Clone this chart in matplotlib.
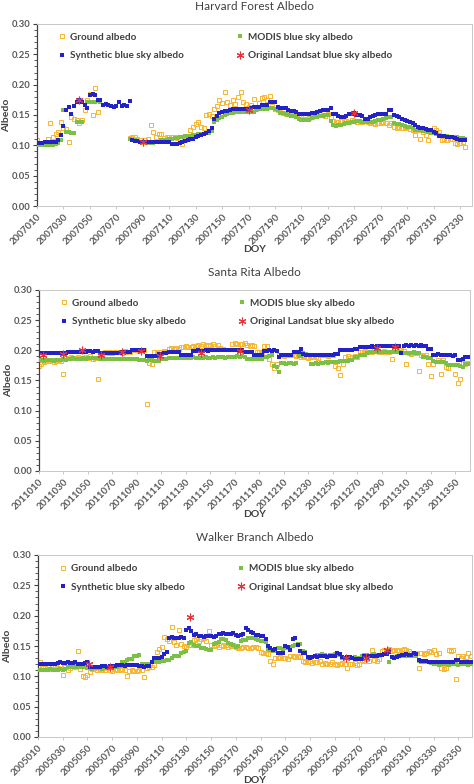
import numpy as np
import matplotlib
matplotlib.use("Agg")
import matplotlib.pyplot as plt
from matplotlib.ticker import MultipleLocator, FixedLocator
from matplotlib.lines import Line2D

plt.rcParams['font.family'] = ['Lato', 'DejaVu Sans']

N = None
# ---------------- Harvard Forest (2007), DOY 10..334 every 2 days, albedo x1000
hf_days = list(range(10, 335, 2))
hf_synthetic = [104, 104, 104, 105, 105, 105, 106, 106, 109,
                117, 132, 158, 163, 152, 165, 172, 175, 172, 167, 162,
                183, 184, 183, 175, 174,
                167, 168, 166, 165, 163, 165, 171, 165, 167, 165, 173,
                109, 107, 107, 106, 106, 106, 106, 106, 106, 106, 106, 106, 106, 106, 105, 103,
                103, 103, 104, 106, 107, 108, 110, 111, 114, 116, 117, 119, 120, 124, 128,
                144, 149, 153, 155, 156, 157, 158, 160, 160, 160, 160, 160, 160, 160, 161, 163,
                164, 164, 167, 167, 167, 172, 172, 171,
                163, 162, 162, 161, 159, 157, 156, 155, 152, 151, 151, 151, 152, 153, 154, 155,
                156, 158, 159, 159, 161,
                152, 151, 148, 147, 147, 149, 151, 152, 153, 150, 150, 148, 144, 144, 146, 149,
                150, 151, 151, 151, 152, 158, 158,
                150, 148, 146, 144, 142, 140, 139, 136, 134, 131, 129, 128, 127, 126, 126, 122,
                120, 116, 116, 115, 114, 113, 113, 112, 110, 109, 108, 108]
hf_modis = [100, 100, 100, 100, 101, 101, 101, 103, 104,
            108, 158, 122, 122, 120, 120, 138, 138, 139,
            N,
            172, 172, 172, 172, 173, 172,
            N, N, N, N, N, N, N, N, N, N,
            111, 109, 108, 107, 106, 106, 105, 104, 104, 104, 105, 106, 108, 109, 109, 110,
            111, 112, 112, 113, 114, 115, 116, 116, 117, 117, 118, 118, 119, 120, 121, 124,
            139, 142, 145, 147, 150, 152, 153, 154, 155, 155, 155, 155, 155, 155, 155, 155,
            158, 160, 160, 160, 160, 161, 161, 160,
            158, 154, 153, 152, 150, 149, 148, 146, 143, 142, 141, 141, 142, 145, 146, 147,
            148, 149, 150, 150, 140,
            133, 132, 133, 134, 135, 136, 137, 138, 139, 140, 140, 139, 138, 138, 139, 139,
            140, 141, 142, 144, 145, 146, 147,
            137, 135, 135, 134, 132, 131, 130, 128, 126, 125, 125, 124, 123, 122, 121, 120,
            118, 117, 116, 116, 115, 114, 114, 113, 113, 112, 112, 111]
hf_ground = [108, 104, 102, 104, 110, 136, 114, 118, 122, 139, 128, 127, 106, 147, 143, 141,
             136, 142, 158, 174, 185, 150, 194, 155,
             N, N, N, N, N, N, N, N, N, N, N,
             112, 114, 113, 110, 108, 106, 108, 110, 133, 122, 114, 119, 118, 112, 113, 114,
             113, 114, 112, 112, 102, 108, 110, 125, 130, 135, 139, 130, 128, 150, 152, 148,
             160, 165, 174, 170, 188, 172, 167, 175, 168, 180, 188, 172, 168, 163, 166, 176,
             160, 170, 178, 180, 175, 182, 165, 160,
             158, 155, 153, 152, 155, 150, 152, 148, 150, 146, 144, 143, 145, 146, 148, 150,
             151, 150, 148, 152, 146,
             140, 138, 139, 140, 141, 140, 139, 141, 140, 139, 138, 139, 140, 138, 137, 136,
             135, 136, 137, 138, 137, 134, 136,
             130, 128, 131, 129, 128, 131, 127, 126, 117, 125, 111, 122, 117, 108, 124, 128,
             126, 122, 108, 110, 109, 111, 110, 104, 103, 104, 105, 97]
hf_landsat_days = [42, 90, 170, 250]
hf_landsat = [175, 105, 159, 153]

# ---------------- Santa Rita (2011), DOY 10..360 every 2 days
sr_days = list(range(10, 361, 2))
sr_synthetic = [195, 195, 195, 195, 195, 196, 195, 195, 196, 195, 195, 196,
                197, 197, 198, 197, 197, 198, 197, 198,
                199, 199, 198, 199, 199,
                195, 195, 196, 195, 195, 195, 196, 195, 195,
                197, 198, 197, 198,
                200, 200, 201, 200, 200, 200,
                190, 190, 190, 191, 191,
                194, 194, 195, 195,
                197, 198, 197, 198, 197,
                192, 193, 192, 193, 192,
                199, 199, 200, 199, 199, 200, 199, 200, 200,
                200, 200, 200, 201, 200, 200, 200, 201, 200, 200, 200, 200,
                198, 197, 198, 197,
                192, 192, 193, 192,
                199, 199, 200, 199, 200, 199,
                189,
                192, 192, 193, 192, 192,
                197, 198, 198,
                203,
                194, 193, 192, 192, 193, 192, 192, 192, 193, 192, 192, 193, 192,
                194, 194,
                200, 200, 201, 200, 200, 201,
                203, 203,
                205, 205, 205,
                206, 206, 207, 206,
                207, 207, 208, 207, 207, 207, 208, 207, 207, 207,
                195,
                208, 209, 208, 209, 208, 209, 208, 209, 208, 208,
                203, 203,
                193, 193, 194, 193, 193, 193,
                192, 192, 191, 192,
                184, 184,
                185,
                189, 189]
sr_modis = [184, 184, 183, 184, 184, 184, 183, 184, 184, 184, 185, 184,
            186, 186, 187, 186, 186, 186, 187, 186,
            188, 187, 188, 188, 187,
            185, 185, 186, 185, 185, 185, 186, 185, 185, 185, 186, 185, 185, 185, 185, 185, 184,
            184, 184, 183, 184, 184,
            182, 182, 183,
            185, 185, 186,
            187, 188, 188, 188, 187, 188, 188, 188, 188, 188, 189, 188, 188, 188, 188, 189,
            188, 188, 189, 188, 189, 189, 189, 188, 189, 189, 189,
            189, 190, 189, 190, 189,
            186, 186, 185, 186, 186, 185, 186,
            189, 189, 190,
            192,
            174, 172,
            164,
            179, 179, 178, 179, 179, 178, 179,
            190, 190,
            195, 194,
            N,
            178, 178, 179, 178, 179, 179, 180, 179, 180, 180, 181, 181,
            182, 183, 183, 183, 184, 184,
            189, 189,
            192, 192, 193,
            196, 197, 197, 198, 197, 198, 198, 197, 198, 198, 198, 197, 198, 197,
            196, 196, 195, 196, 196, 197, 196, 196,
            207,
            189, 189, 188, 188,
            182, 181, 181, 180, 180, 179,
            176, 175, 175, 175, 175,
            174, 172,
            178, 178]
sr_ground = [174, 177, 180,
             183, 182, 184, 181, 183, 184, 182,
             161,
             187, 188, 189, 188, 187, 189, 188, 188, 189, 188,
             190, 185, 187,
             152,
             196, 195, 197, 196, 198, 196, 197, 198, 197, 196, 199, 197, 198, 200,
             200, 201, 199, 200, 201,
             111,
             179, 178,
             197, 196, 198, 197, 199, 198,
             203, 204, 202, 204, 203,
             206, 205, 207, 206, 206, 207,
             208, 209, 208, 210, 209, 208, 209, 210, 208, 209,
             204, 203, N, N, N,
             211, 212, 211, 210, 211, 212,
             209, 208, 209, 208,
             197, 198, 197,
             207, 208,
             186, 178, 170,
             178,
             192, 193, 191, 192, 192, 193, 192, 191, 192,
             189, 190, 189, 188, 189, 190, 189, 188,
             192, 193, 192, 191, 192, 192,
             174, 171, 159, 178,
             189, 190, 188, 189, 190, 189,
             198, 197, 199, 198, 197, 198, 200, 199, 198, 197, 199, 198, 197,
             186, N,
             200, 201, 200, 199,
             177,
             195, 194, 196, 195,
             166,
             192, 191, 192,
             177, 157,
             177, N, 184,
             160, 184,
             172, 171, N, N,
             160, 146,
             152, 179, 178, 179]
sr_landsat_days = [13, 30, 45, 61, 78, 93, 109, 142, 174, 286, 301]
sr_landsat = [193, 194, 200, 193, 198, 199, 190, 196, 199, 204, 206]

# ---------------- Walker Branch (2005), DOY 10..360 every 2 days
wb_days = list(range(10, 361, 2))
wb_synthetic = [121, 121, 121, 121, 121, 120, 121, 121,
                122, 123, 122, 122, 123, 122, 122, 123,
                121, 121, 121, 122,
                124,
                116, 115, 116, 115, 116,
                117, 117, 116, 117, 117, 117,
                118, 118, 118, 117, 118, 118, 118, 119, 118,
                117, 117, 116, 117, 117,
                124,
                130, 131, 131, 132,
                137, 140,
                164, 165, 164, 163, 164, 165, 164,
                176, 179, 174,
                168, 169, 167,
                166, 165, 166, 167, 166, 165, 167,
                170, 169, 171, 170, 170, 169, 171,
                168, 167, 168, 169,
                180, 177,
                173, 172,
                168, 168, 167, 166,
                161,
                150, 146, 144, 145,
                139, 138, 139,
                150, 148,
                143,
                162, 164,
                152,
                141, 139, 138,
                132, 131, 132,
                133, 132, 133, 134, 133, 132, 133, 133, 134,
                138, 137,
                132, 131, 132, 132, 131,
                129, 128, 129, 129,
                133, 132, 133, 134, 133, 133,
                135, 135, 136, 136,
                140,
                132, 131, 132, 133,
                135, 135, 136, 135, 135,
                138, 137,
                127, 126, 126, 126,
                124, 124, 123, 124, 124, 124, 123, 124, 124, 124, 124,
                127, 127,
                124, 124, 124, 123, 123]
wb_modis = [111, 110, 111, 111, 111, 112, 111, 111, 111, 112, 111, 112,
            115, 115, 116, 115, 116, 115, 116, 115,
            113, 113, 112, 113, 113, 113, 112, 113, 113, 113, 113,
            115, 116, 117,
            124, 124,
            127, 128, 129,
            133, 134, 135,
            121, 120, 121, 121,
            124, 123, 124, 124, 125,
            126, 127, 127,
            131, 133, 134, 134,
            138, 140, 141,
            155, 157,
            152, 150, 150,
            147, 146, 145, 144, 143,
            153, 155, 157,
            161, 162, 160,
            155, 154, 152,
            149, 150,
            158, 160, 160,
            164, 164, 163, 162,
            160, 159, 158, 156,
            145, 143, 142, 142,
            146, 146, 145, 147, 146,
            149, 150, 152,
            153, 153,
            142, 140,
            131, 131, 132,
            134, 135, 135, 136, 135, 134, 135, 135, 136, 135, 135,
            131, 131, 130, 131, 131, 132, 131, 131,
            134, 135, 135, 134, 135, 136, 135, 135, 135,
            137, 137, 124,
            132, 132, 133, 133, 134, 133, 133, 133, 134, 133, 133,
            125, 124, 124, 124, 123, 122,
            120, 120, 119, 120, 120, 120, 119, 120, 120, 120, 119, 120, 120, 120, 119, 120]
wb_ground = [116, 124, 113, 115, 117, 112, 119, 116, 114, 118,
             102,
             116, 110, 114, 117, 115,
             142,
             112, 100,
             99, 103,
             107, 112, 114, 110,
             112, 110, 111, 113, 111, 109, 112, 111, 110, 112, 111,
             100, 109,
             110, 108, 109, 111, 110,
             99,
             113, 115, 116, 118,
             140, 145, 148,
             165, 162,
             158, 181, 156, 152, 176,
             154, 150, 149, 152, 151,
             160, 162, 158, 161, 163, 159,
             175,
             152, 150, 151, 149, 152, 150, 151, 148, 150, 151,
             148, 147, 146, 149, 148, 146, 147, 149, 148, 146,
             140, 138, 139, 137,
             126, 120,
             131, 130, 132, 130, 131, 129,
             133, 134, 132, 133, 132,
             125, 123, 124, 125, 122, 123, 124, 125,
             121, 122, 120, 121, 123, 121, 119, 120, 122, 121, 113, 120, 121, 122, 119, 121,
             127, 126, 128, 125, 143, 127, 126, 128,
             142, 144, 143, 145, 142, 143, 144, 141, 143, 145, 143, 142,
             138, 137, 139, 113, 138, 136,
             138, 142, 140, 143, 137, 139,
             113, 112, 114,
             143, 142, 144,
             96,
             133, 131, 134, 132, 139, 133]
wb_landsat_days = [51, 68, 133, 259, 275, 292]
wb_landsat = [121, 116, 198, 131, 131, 144]

panels = [
    dict(title="Harvard Forest Albedo", year="2007", days=hf_days, syn=hf_synthetic,
         modis=hf_modis, ground=hf_ground, ld=hf_landsat_days, lv=hf_landsat,
         ticks=list(range(10, 331, 20)), xlim=(10, 339), box=(37, 472, 24, 206)),
    dict(title="Santa Rita Albedo", year="2011", days=sr_days, syn=sr_synthetic,
         modis=sr_modis, ground=sr_ground, ld=sr_landsat_days, lv=sr_landsat,
         ticks=list(range(10, 351, 20)), xlim=(10, 362), box=(39, 470, 290, 471)),
    dict(title="Walker Branch Albedo", year="2005", days=wb_days, syn=wb_synthetic,
         modis=wb_modis, ground=wb_ground, ld=wb_landsat_days, lv=wb_landsat,
         ticks=list(range(10, 351, 20)), xlim=(10, 361), box=(38, 472, 555, 737)),
]

W, H = 474, 784
fig = plt.figure(figsize=(W / 100, H / 100), dpi=100)

C_GROUND = '#F7B52C'
C_MODIS = '#7CBF45'
C_SYN = '#2222C8'
C_LAND = '#E5323C'
TXT = '#404040'


def vals(v):
    return np.array(v, dtype=float) / 1000.0


for p in panels:
    l, r, t, b = p['box']
    ax = fig.add_axes([l / W, 1 - b / H, (r - l) / W, (b - t) / H])
    ax.plot(p['days'][:len(p['ground'])], vals(p['ground']), ls='none', marker='s', ms=2.7,
            mfc='none', mec=C_GROUND, mew=0.7, zorder=2)
    ax.plot(p['days'][:len(p['modis'])], vals(p['modis']), ls='none', marker='s', ms=2.9,
            color=C_MODIS, mew=0, zorder=3)
    ax.plot(p['days'][:len(p['syn'])], vals(p['syn']), ls='none', marker='s', ms=2.6,
            color=C_SYN, mew=0, zorder=4)
    ax.plot(p['ld'], vals(p['lv']), ls='none', marker=(6, 2, 0), ms=5.5, color=C_LAND,
            mew=0.8, zorder=5)

    ax.set_xlim(*p['xlim'])
    ax.set_ylim(0, 0.30)
    ax.yaxis.set_major_locator(MultipleLocator(0.05))
    ax.yaxis.set_minor_locator(MultipleLocator(0.01))
    ax.set_yticklabels([f"{v:.2f}" for v in ax.get_yticks()])
    ax.xaxis.set_major_locator(FixedLocator(p['ticks']))
    ax.set_xticklabels([f"{p['year']}{d:03d}" for d in p['ticks']], rotation=45,
                       ha='right', rotation_mode='anchor', fontsize=6.9,
                       fontweight='bold', color='#595959')
    for lab in ax.get_yticklabels():
        lab.set_fontsize(6.8)
        lab.set_fontweight('bold')
        lab.set_color('#595959')
    ax.tick_params(axis='y', which='major', direction='out', length=3, width=0.8,
                   color='#404040', pad=2)
    ax.tick_params(axis='y', which='minor', direction='out', length=2, width=0.6,
                   color='#404040')
    ax.tick_params(axis='x', which='major', direction='out', length=2.5, width=0.6,
                   color='#BFBFBF', pad=1.8)
    for s in ['top', 'right', 'bottom']:
        ax.spines[s].set_color('#C8C8C8')
        ax.spines[s].set_linewidth(0.7)
    ax.spines['left'].set_color('#404040')
    ax.spines['left'].set_linewidth(0.9)

    ax.set_ylabel("Albedo", fontsize=7.5, fontweight='bold', color=TXT)
    ax.yaxis.set_label_coords(-26.0 / (r - l), 0.5)
    ax.set_xlabel("DOY", fontsize=7.5, fontweight='bold', color=TXT, labelpad=-0.5)
    ax.set_title(p['title'], fontsize=8.5, color=TXT, pad=10)

    handles = [
        Line2D([], [], ls='none', marker='s', ms=2.7, mfc='none', mec=C_GROUND, mew=0.7),
        Line2D([], [], ls='none', marker='s', ms=2.4, color=C_SYN, mew=0),
        Line2D([], [], ls='none', marker='s', ms=2.9, color=C_MODIS, mew=0),
        Line2D([], [], ls='none', marker=(6, 2, 0), ms=5.5, color=C_LAND, mew=0.8),
    ]
    labels = ["Ground albedo", "Synthetic blue sky albedo",
              "MODIS blue sky albedo", "Original Landsat blue sky albedo"]
    leg = ax.legend(handles, labels, ncol=2, frameon=False, loc='upper left',
                    bbox_to_anchor=(0.03, 1.0), handlelength=0.6, handletextpad=0.5,
                    columnspacing=5.3, labelspacing=0.95,
                    prop=dict(size=7.2, weight='bold'))
    for tx in leg.get_texts():
        tx.set_color(TXT)

fig.savefig("out.png", dpi=100)
